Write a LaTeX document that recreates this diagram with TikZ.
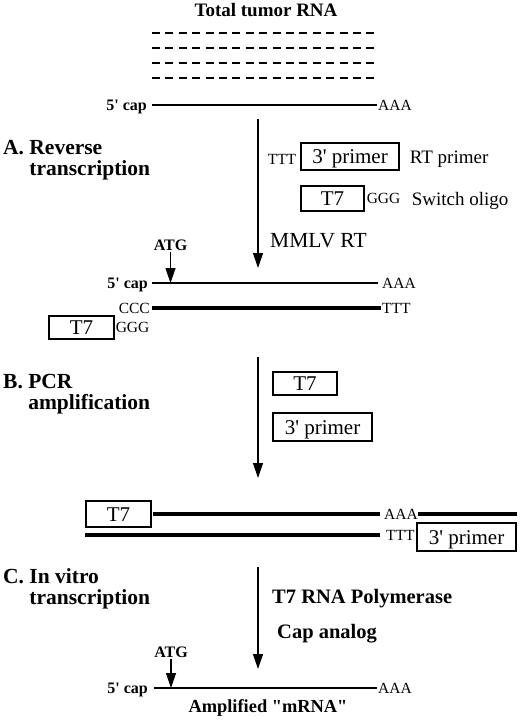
\documentclass[tikz,border=0pt]{standalone}
\usepackage{fontspec}
\setmainfont{Liberation Serif}
\usetikzlibrary{arrows.meta,positioning}

\begin{document}
\begin{tikzpicture}[x=1pt, y=-1pt,
    seq/.style = {inner sep=1pt, font=\fontsize{15.5}{16}\selectfont, text height=10.3pt, text depth=0pt},
    bseq/.style = {seq, font=\fontsize{16}{16}\selectfont\bfseries, text height=10.6pt},
    note/.style = {inner sep=1pt, font=\fontsize{19}{19}\selectfont, text height=12.5pt, text depth=0pt},
    bignote/.style = {note, font=\fontsize{21.5}{21}\selectfont, text height=14.2pt},
    enzyme/.style = {note, font=\fontsize{20.5}{21}\selectfont\bfseries, text height=13.5pt},
    primerbox/.style = {draw, line width=1.2pt, inner sep=0pt, font=\fontsize{21}{21}\selectfont, text height=14pt, text depth=0pt},
    stagelabel/.style = {align=left, inner sep=0pt, font=\fontsize{21.5}{21}\selectfont\bfseries},
    strand/.style = {line width=2pt},
    dsstrand/.style = {line width=3.6pt},
    flow/.style = {line width=1.3pt, -{Triangle[length=15pt, width=10pt]}}]

  \useasboundingbox (0,0) rectangle (520,727);

  % starting material
  \node[font=\fontsize{19}{19}\selectfont\bfseries, inner sep=0pt, anchor=base] (title) at (266,16.5) {Total tumor RNA};
  \foreach \y in {33,48,63,78}
    \draw[line width=1.3pt, dash pattern=on 8pt off 5.4pt] (152,\y) -- (377,\y);

  \coordinate (m1l) at (152,105);
  \coordinate (m1r) at (377,105);
  \draw[strand] (m1l) -- (m1r);
  \node[bseq, left=4pt of m1l] (cap1) {5\textquotesingle{} cap};
  \node[seq, right=0pt of m1r] (aaa1) {AAA};

  % A. reverse transcription
  \node[stagelabel, anchor=north west] (stagea) at (3,139.8) {A.\ Reverse\\\hphantom{A.\ }transcription};
  \coordinate (a0) at (258,119);
  \coordinate (a1) at (258,268);
  \draw[flow] (a0) -- (a1);

  \node[primerbox, minimum width=98pt, minimum height=27pt] (rtprimer) at (350,156.5) {3\textquotesingle{} primer};
  \node[seq, left=3pt of rtprimer, yshift=-2.5pt] (rtttt) {TTT};
  \node[note, right=9pt of rtprimer, yshift=-1pt] (rtlabel) {RT primer};
  \node[primerbox, minimum width=63pt, minimum height=25pt] (swt7) at (332.5,198.5) {T7};
  \node[seq, right=1pt of swt7] (swggg) {GGG};
  \node[note, right=9pt of swggg, yshift=-1pt] (swlabel) {Switch oligo};
  \node[bignote, anchor=west] (mmlv) at (269,240) {MMLV RT};

  \node[bseq] (atg1) at (170.5,245) {ATG};
  \coordinate (atg1tip) at (170.5,283);
  \draw[flow] (atg1) -- (atg1tip);

  \coordinate (m2l) at (152,283);
  \coordinate (m2r) at (378,283);
  \draw[strand] (m2l) -- (m2r);
  \node[bseq, left=3pt of m2l] (cap2) {5\textquotesingle{} cap};
  \node[seq, right=3pt of m2r] (aaa2) {AAA};

  \coordinate (c2l) at (152,308);
  \coordinate (c2r) at (381,308);
  \draw[dsstrand] (c2l) -- (c2r);
  \node[seq, left=1pt of c2l] (ccc) {CCC};
  \node[seq, right=0pt of c2r] (ttt2) {TTT};
  \node[primerbox, minimum width=65pt, minimum height=23pt] (cdnat7) at (81.5,327.5) {T7};
  \node[seq, right=0pt of cdnat7] (ggg2) {GGG};

  % B. PCR amplification
  \node[stagelabel, anchor=north west] (stageb) at (3,373.8) {B.\ PCR\\\hphantom{B.\ }amplification};
  \coordinate (b0) at (258,357);
  \coordinate (b1) at (258,478);
  \draw[flow] (b0) -- (b1);
  \node[primerbox, minimum width=64pt, minimum height=23pt] (pcrt7) at (305,383.5) {T7};
  \node[primerbox, minimum width=99pt, minimum height=28pt] (pcrprimer) at (322.5,427) {3\textquotesingle{} primer};

  \node[primerbox, minimum width=65pt, minimum height=26pt] (prodt7) at (118.5,514) {T7};
  \coordinate (p1l) at (153,514);
  \coordinate (p1r) at (380,514);
  \coordinate (p1x) at (418,514);
  \coordinate (p1e) at (517,514);
  \draw[dsstrand] (p1l) -- (p1r);
  \draw[dsstrand] (p1x) -- (p1e);
  \node[seq, right=3pt of p1r] (aaa3) {AAA};
  \coordinate (p2l) at (85,535);
  \coordinate (p2r) at (380,535);
  \draw[dsstrand] (p2l) -- (p2r);
  \node[seq, right=5pt of p2r] (ttt3) {TTT};
  \node[primerbox, minimum width=99pt, minimum height=28pt] (prodprimer) at (466.5,537) {3\textquotesingle{} primer};

  % C. in vitro transcription
  \node[stagelabel, anchor=north west] (stagec) at (3,568.8) {C.\ In vitro\\\hphantom{C.\ }transcription};
  \coordinate (c0) at (258,567);
  \coordinate (c1) at (258,669);
  \draw[flow] (c0) -- (c1);
  \node[enzyme, anchor=west] (polymerase) at (271,597) {T7 RNA Polymerase};
  \node[enzyme, anchor=west] (capanalog) at (276,631.5) {Cap analog};

  \node[bseq] (atg3) at (171,652) {ATG};
  \coordinate (atg3tip) at (171,688);
  \draw[flow] (atg3) -- (atg3tip);

  \coordinate (m3l) at (154,688);
  \coordinate (m3r) at (377,688);
  \draw[strand] (m3l) -- (m3r);
  \node[bseq, left=5pt of m3l] (cap3) {5\textquotesingle{} cap};
  \node[seq, right=0pt of m3r] (aaa4) {AAA};
  \node[font=\fontsize{18.4}{18}\selectfont\bfseries, inner sep=1pt, text height=12.1pt, text depth=0pt] (amplified) at (268,706.7) {Amplified \textquotedbl mRNA\textquotedbl};

\end{tikzpicture}
\end{document}
